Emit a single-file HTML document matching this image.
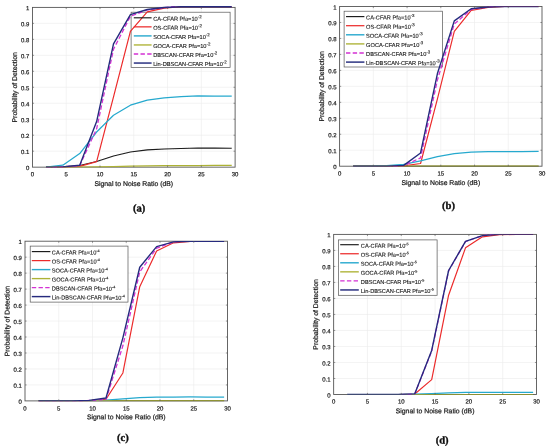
<!DOCTYPE html>
<html lang="en"><head><meta charset="utf-8"><title>CFAR detection probability</title>
<style>
html,body{margin:0;padding:0;background:#fff;}
body{width:550px;height:448px;overflow:hidden;}
svg{display:block;}
text{font-family:"Liberation Sans",Arial,Helvetica,sans-serif;fill:#1c1c1c;stroke:#1c1c1c;stroke-width:0.12px;}
.tk{font-size:6.0px;stroke-width:0.2px;}
.lb{font-size:6.85px;stroke-width:0.22px;}
.lg{font-size:5.67px;}
.cap{font-family:"Liberation Serif","Times New Roman",serif;font-weight:bold;font-size:10.6px;fill:#0a0a0a;stroke:#0a0a0a;stroke-width:0.3px;}
</style></head><body>
<svg width="550" height="448" viewBox="0 0 550 448">
<defs><filter id="soft" x="-2%" y="-2%" width="104%" height="104%"><feGaussianBlur stdDeviation="0.4"/></filter><filter id="softt" x="-2%" y="-2%" width="104%" height="104%"><feGaussianBlur stdDeviation="0.28"/></filter></defs>
<rect x="0" y="0" width="550" height="448" fill="#ffffff"/>
<g filter="url(#soft)">

<g id="plot-a">
<path d="M66.22 7.4V167.15M100 7.4V167.15M133.77 7.4V167.15M167.55 7.4V167.15M201.32 7.4V167.15M32.45 151.18H235.1M32.45 135.2H235.1M32.45 119.23H235.1M32.45 103.25H235.1M32.45 87.28H235.1M32.45 71.3H235.1M32.45 55.33H235.1M32.45 39.35H235.1M32.45 23.38H235.1" stroke="#ebebeb" stroke-width="0.6" fill="none"/>
<rect x="32.45" y="7.4" width="202.65" height="159.75" fill="none" stroke="#555555" stroke-width="0.9"/>
<rect x="131.1" y="12.2" width="99" height="55.2" fill="#ffffff" stroke="#555555" stroke-width="0.7"/>
<clipPath id="clip-a"><rect x="31.45" y="6.1" width="204.65" height="161.3"/></clipPath>
<g clip-path="url(#clip-a)">
<polyline points="45.96,167.15 62.85,166.83 79.73,165.55 96.62,161.56 113.51,155.97 130.4,151.97 147.28,149.9 164.17,148.94 181.06,148.46 197.95,147.98 214.83,148.14 231.72,148.3" fill="none" stroke="#1a1a1a" stroke-width="1.1" stroke-linejoin="round"/>
<polyline points="45.96,167.15 62.85,167.15 79.73,166.35 96.62,161.56 113.51,96.86 130.4,31.36 147.28,11.87 164.17,8.04 181.06,6.76 197.95,6.76 214.83,6.76 231.72,6.76" fill="none" stroke="#ec2c2c" stroke-width="1.2" stroke-linejoin="round"/>
<polyline points="45.96,167.15 62.85,165.23 79.73,153.57 96.62,132 113.51,115.23 130.4,105.17 147.28,100.06 164.17,97.82 181.06,96.7 197.95,95.9 214.83,96.06 231.72,96.22" fill="none" stroke="#26a9ce" stroke-width="1.25" stroke-linejoin="round"/>
<polyline points="45.96,167.15 62.85,167.15 79.73,167.15 96.62,166.99 113.51,166.67 130.4,166.19 147.28,165.87 164.17,165.71 181.06,165.55 197.95,165.55 214.83,165.39 231.72,165.39" fill="none" stroke="#adb234" stroke-width="1.25" stroke-linejoin="round"/>
<polyline points="45.96,168.27 62.85,166.83 79.73,165.55 96.62,128.81 113.51,49.25 130.4,16.35 147.28,9.96 164.17,7.72 181.06,5.64 197.95,5.64 214.83,5.64 231.72,5.64" fill="none" stroke="#d432d4" stroke-width="1.3" stroke-linejoin="round" stroke-dasharray="4.4 2.3"/>
<polyline points="45.96,167.15 62.85,166.83 79.73,165.23 96.62,121.62 113.51,43.82 130.4,14.59 147.28,9.48 164.17,7.56 181.06,6.76 197.95,6.76 214.83,6.76 231.72,6.76" fill="none" stroke="#262c7e" stroke-width="1.4" stroke-linejoin="round"/>
</g>
<path d="M66.22 167.15v-1.6M66.22 7.4v1.6M100 167.15v-1.6M100 7.4v1.6M133.77 167.15v-1.6M133.77 7.4v1.6M167.55 167.15v-1.6M167.55 7.4v1.6M201.32 167.15v-1.6M201.32 7.4v1.6M32.45 151.18h1.6M235.1 151.18h-1.6M32.45 135.2h1.6M235.1 135.2h-1.6M32.45 119.23h1.6M235.1 119.23h-1.6M32.45 103.25h1.6M235.1 103.25h-1.6M32.45 87.28h1.6M235.1 87.28h-1.6M32.45 71.3h1.6M235.1 71.3h-1.6M32.45 55.33h1.6M235.1 55.33h-1.6M32.45 39.35h1.6M235.1 39.35h-1.6M32.45 23.38h1.6M235.1 23.38h-1.6" stroke="#555555" stroke-width="0.6" fill="none"/>
<path d="M133.8 17.8H151.6" stroke="#1a1a1a" stroke-width="1.15" fill="none"/>
<path d="M133.8 26.85H151.6" stroke="#ec2c2c" stroke-width="1.25" fill="none"/>
<path d="M133.8 35.9H151.6" stroke="#26a9ce" stroke-width="1.4" fill="none"/>
<path d="M133.8 44.95H151.6" stroke="#adb234" stroke-width="1.35" fill="none"/>
<path d="M133.8 54H151.6" stroke="#d432d4" stroke-width="1.4" fill="none" stroke-dasharray="4.4 2.3"/>
<path d="M133.8 63.05H151.6" stroke="#262c7e" stroke-width="1.45" fill="none"/>
</g>
<g id="plot-b">
<path d="M373.33 6.5V166.2M407.07 6.5V166.2M440.8 6.5V166.2M474.53 6.5V166.2M508.27 6.5V166.2M339.6 150.23H542M339.6 134.26H542M339.6 118.29H542M339.6 102.32H542M339.6 86.35H542M339.6 70.38H542M339.6 54.41H542M339.6 38.44H542M339.6 22.47H542" stroke="#ebebeb" stroke-width="0.6" fill="none"/>
<rect x="339.6" y="6.5" width="202.4" height="159.7" fill="none" stroke="#555555" stroke-width="0.9"/>
<rect x="344.1" y="11.2" width="98.4" height="55.8" fill="#ffffff" stroke="#555555" stroke-width="0.7"/>
<clipPath id="clip-b"><rect x="338.6" y="6.25" width="204.4" height="160.2"/></clipPath>
<g clip-path="url(#clip-b)">
<polyline points="353.09,166.2 369.96,166.2 386.83,166.2 403.69,166.2 420.56,166.2 437.43,166.2 454.29,166.2 471.16,166.2 488.03,166.2 504.89,166.2 521.76,166.2 538.63,166.2" fill="none" stroke="#1a1a1a" stroke-width="1.1" stroke-linejoin="round"/>
<polyline points="353.09,166.2 369.96,166.2 386.83,166.2 403.69,165.88 420.56,163.49 437.43,98.81 454.29,31.41 471.16,10.49 488.03,7.3 504.89,6.5 521.76,6.5 538.63,6.5" fill="none" stroke="#ec2c2c" stroke-width="1.2" stroke-linejoin="round"/>
<polyline points="353.09,166.2 369.96,166.2 386.83,165.72 403.69,164.28 420.56,160.93 437.43,156.62 454.29,153.74 471.16,152.15 488.03,151.67 504.89,151.59 521.76,151.59 538.63,151.27" fill="none" stroke="#26a9ce" stroke-width="1.25" stroke-linejoin="round"/>
<polyline points="353.09,166.2 369.96,166.2 386.83,166.2 403.69,166.2 420.56,166.2 437.43,166.2 454.29,166.2 471.16,166.2 488.03,166.2 504.89,166.2 521.76,166.2 538.63,166.2" fill="none" stroke="#adb234" stroke-width="1.25" stroke-linejoin="round"/>
<polyline points="353.09,167.32 369.96,167.32 386.83,167.32 403.69,165.56 420.56,157.9 437.43,79.96 454.29,24.07 471.16,9.37 488.03,6.98 504.89,5.38 521.76,5.38 538.63,5.38" fill="none" stroke="#d432d4" stroke-width="1.3" stroke-linejoin="round" stroke-dasharray="4.4 2.3"/>
<polyline points="353.09,166.2 369.96,166.2 386.83,166.2 403.69,165.4 420.56,152.94 437.43,73.57 454.29,20.87 471.16,8.74 488.03,6.98 504.89,6.5 521.76,6.5 538.63,6.5" fill="none" stroke="#262c7e" stroke-width="1.4" stroke-linejoin="round"/>
</g>
<path d="M373.33 166.2v-1.6M373.33 6.5v1.6M407.07 166.2v-1.6M407.07 6.5v1.6M440.8 166.2v-1.6M440.8 6.5v1.6M474.53 166.2v-1.6M474.53 6.5v1.6M508.27 166.2v-1.6M508.27 6.5v1.6M339.6 150.23h1.6M542 150.23h-1.6M339.6 134.26h1.6M542 134.26h-1.6M339.6 118.29h1.6M542 118.29h-1.6M339.6 102.32h1.6M542 102.32h-1.6M339.6 86.35h1.6M542 86.35h-1.6M339.6 70.38h1.6M542 70.38h-1.6M339.6 54.41h1.6M542 54.41h-1.6M339.6 38.44h1.6M542 38.44h-1.6M339.6 22.47h1.6M542 22.47h-1.6" stroke="#555555" stroke-width="0.6" fill="none"/>
<path d="M346 16.6H364.4" stroke="#1a1a1a" stroke-width="1.15" fill="none"/>
<path d="M346 25.7H364.4" stroke="#ec2c2c" stroke-width="1.25" fill="none"/>
<path d="M346 34.8H364.4" stroke="#26a9ce" stroke-width="1.4" fill="none"/>
<path d="M346 43.9H364.4" stroke="#adb234" stroke-width="1.35" fill="none"/>
<path d="M346 53H364.4" stroke="#d432d4" stroke-width="1.4" fill="none" stroke-dasharray="4.4 2.3"/>
<path d="M346 62.1H364.4" stroke="#262c7e" stroke-width="1.45" fill="none"/>
</g>
<g id="plot-c">
<path d="M58.75 241.2V400.9M92.5 241.2V400.9M126.25 241.2V400.9M160 241.2V400.9M193.75 241.2V400.9M25 384.93H227.5M25 368.96H227.5M25 352.99H227.5M25 337.02H227.5M25 321.05H227.5M25 305.08H227.5M25 289.11H227.5M25 273.14H227.5M25 257.17H227.5" stroke="#ebebeb" stroke-width="0.6" fill="none"/>
<rect x="25" y="241.2" width="202.5" height="159.7" fill="none" stroke="#555555" stroke-width="0.9"/>
<rect x="30.2" y="246.1" width="97.8" height="56" fill="#ffffff" stroke="#555555" stroke-width="0.7"/>
<clipPath id="clip-c"><rect x="24" y="240.95" width="204.5" height="160.2"/></clipPath>
<g clip-path="url(#clip-c)">
<polyline points="38.5,400.9 55.38,400.9 72.25,400.9 89.12,400.9 106,400.9 122.88,400.9 139.75,400.9 156.62,400.9 173.5,400.9 190.38,400.9 207.25,400.9 224.12,400.9" fill="none" stroke="#1a1a1a" stroke-width="1.1" stroke-linejoin="round"/>
<polyline points="38.5,400.9 55.38,400.9 72.25,400.9 89.12,400.74 106,399.3 122.88,372.95 139.75,286.71 156.62,250.94 173.5,242.8 190.38,241.52 207.25,241.2 224.12,241.2" fill="none" stroke="#ec2c2c" stroke-width="1.2" stroke-linejoin="round"/>
<polyline points="38.5,400.9 55.38,400.9 72.25,400.9 89.12,400.74 106,400.1 122.88,398.82 139.75,397.71 156.62,397.23 173.5,397.07 190.38,396.99 207.25,397.07 224.12,397.07" fill="none" stroke="#26a9ce" stroke-width="1.25" stroke-linejoin="round"/>
<polyline points="38.5,400.9 55.38,400.9 72.25,400.9 89.12,400.9 106,400.9 122.88,400.9 139.75,400.9 156.62,400.9 173.5,400.9 190.38,400.9 207.25,400.9 224.12,400.9" fill="none" stroke="#adb234" stroke-width="1.25" stroke-linejoin="round"/>
<polyline points="38.5,402.02 55.38,402.02 72.25,402.02 89.12,400.42 106,399.46 122.88,345.8 139.75,271.86 156.62,248.23 173.5,242 190.38,240.08 207.25,240.08 224.12,240.08" fill="none" stroke="#d432d4" stroke-width="1.3" stroke-linejoin="round" stroke-dasharray="4.4 2.3"/>
<polyline points="38.5,400.9 55.38,400.9 72.25,400.9 89.12,400.42 106,398.03 122.88,337.82 139.75,267.23 156.62,246.63 173.5,241.84 190.38,241.2 207.25,241.2 224.12,241.2" fill="none" stroke="#262c7e" stroke-width="1.4" stroke-linejoin="round"/>
</g>
<path d="M58.75 400.9v-1.6M58.75 241.2v1.6M92.5 400.9v-1.6M92.5 241.2v1.6M126.25 400.9v-1.6M126.25 241.2v1.6M160 400.9v-1.6M160 241.2v1.6M193.75 400.9v-1.6M193.75 241.2v1.6M25 384.93h1.6M227.5 384.93h-1.6M25 368.96h1.6M227.5 368.96h-1.6M25 352.99h1.6M227.5 352.99h-1.6M25 337.02h1.6M227.5 337.02h-1.6M25 321.05h1.6M227.5 321.05h-1.6M25 305.08h1.6M227.5 305.08h-1.6M25 289.11h1.6M227.5 289.11h-1.6M25 273.14h1.6M227.5 273.14h-1.6M25 257.17h1.6M227.5 257.17h-1.6" stroke="#555555" stroke-width="0.6" fill="none"/>
<path d="M31.8 251.6H50.4" stroke="#1a1a1a" stroke-width="1.15" fill="none"/>
<path d="M31.8 260.6H50.4" stroke="#ec2c2c" stroke-width="1.25" fill="none"/>
<path d="M31.8 269.6H50.4" stroke="#26a9ce" stroke-width="1.4" fill="none"/>
<path d="M31.8 278.6H50.4" stroke="#adb234" stroke-width="1.35" fill="none"/>
<path d="M31.8 287.6H50.4" stroke="#d432d4" stroke-width="1.4" fill="none" stroke-dasharray="4.4 2.3"/>
<path d="M31.8 296.6H50.4" stroke="#262c7e" stroke-width="1.45" fill="none"/>
</g>
<g id="plot-d">
<path d="M367.46 234.4V394.5M401.27 234.4V394.5M435.07 234.4V394.5M468.88 234.4V394.5M502.69 234.4V394.5M333.65 378.49H536.5M333.65 362.48H536.5M333.65 346.47H536.5M333.65 330.46H536.5M333.65 314.45H536.5M333.65 298.44H536.5M333.65 282.43H536.5M333.65 266.42H536.5M333.65 250.41H536.5" stroke="#ebebeb" stroke-width="0.6" fill="none"/>
<rect x="333.65" y="234.4" width="202.85" height="160.1" fill="none" stroke="#555555" stroke-width="0.9"/>
<rect x="338.4" y="239.9" width="98.7" height="55.4" fill="#ffffff" stroke="#555555" stroke-width="0.7"/>
<clipPath id="clip-d"><rect x="332.65" y="234.15" width="204.85" height="160.6"/></clipPath>
<g clip-path="url(#clip-d)">
<polyline points="347.17,394.5 364.08,394.5 380.98,394.5 397.89,394.5 414.79,394.5 431.69,394.5 448.6,394.5 465.5,394.5 482.41,394.5 499.31,394.5 516.22,394.5 533.12,394.5" fill="none" stroke="#1a1a1a" stroke-width="1.1" stroke-linejoin="round"/>
<polyline points="347.17,394.5 364.08,394.5 380.98,394.5 397.89,394.5 414.79,394.02 431.69,379.61 448.6,295.24 465.5,247.85 482.41,236.8 499.31,234.72 516.22,234.4 533.12,234.4" fill="none" stroke="#ec2c2c" stroke-width="1.2" stroke-linejoin="round"/>
<polyline points="347.17,394.5 364.08,394.5 380.98,394.5 397.89,394.5 414.79,394.18 431.69,393.54 448.6,392.9 465.5,392.42 482.41,392.26 499.31,392.26 516.22,392.26 533.12,392.26" fill="none" stroke="#26a9ce" stroke-width="1.25" stroke-linejoin="round"/>
<polyline points="347.17,394.5 364.08,394.5 380.98,394.5 397.89,394.5 414.79,394.5 431.69,394.5 448.6,394.5 465.5,394.5 482.41,394.5 499.31,394.5 516.22,394.5 533.12,394.5" fill="none" stroke="#adb234" stroke-width="1.25" stroke-linejoin="round"/>
<polyline points="347.17,395.62 364.08,395.62 380.98,395.62 397.89,395.62 414.79,393.86 431.69,351.27 448.6,270.9 465.5,241.6 482.41,235.68 499.31,233.28 516.22,233.28 533.12,233.28" fill="none" stroke="#d432d4" stroke-width="1.3" stroke-linejoin="round" stroke-dasharray="4.4 2.3"/>
<polyline points="347.17,394.5 364.08,394.5 380.98,394.5 397.89,394.5 414.79,393.86 431.69,350.47 448.6,270.5 465.5,241.44 482.41,235.6 499.31,234.4 516.22,234.4 533.12,234.4" fill="none" stroke="#262c7e" stroke-width="1.4" stroke-linejoin="round"/>
</g>
<path d="M367.46 394.5v-1.6M367.46 234.4v1.6M401.27 394.5v-1.6M401.27 234.4v1.6M435.07 394.5v-1.6M435.07 234.4v1.6M468.88 394.5v-1.6M468.88 234.4v1.6M502.69 394.5v-1.6M502.69 234.4v1.6M333.65 378.49h1.6M536.5 378.49h-1.6M333.65 362.48h1.6M536.5 362.48h-1.6M333.65 346.47h1.6M536.5 346.47h-1.6M333.65 330.46h1.6M536.5 330.46h-1.6M333.65 314.45h1.6M536.5 314.45h-1.6M333.65 298.44h1.6M536.5 298.44h-1.6M333.65 282.43h1.6M536.5 282.43h-1.6M333.65 266.42h1.6M536.5 266.42h-1.6M333.65 250.41h1.6M536.5 250.41h-1.6" stroke="#555555" stroke-width="0.6" fill="none"/>
<path d="M340.2 244.7H358.8" stroke="#1a1a1a" stroke-width="1.15" fill="none"/>
<path d="M340.2 253.75H358.8" stroke="#ec2c2c" stroke-width="1.25" fill="none"/>
<path d="M340.2 262.8H358.8" stroke="#26a9ce" stroke-width="1.4" fill="none"/>
<path d="M340.2 271.85H358.8" stroke="#adb234" stroke-width="1.35" fill="none"/>
<path d="M340.2 280.9H358.8" stroke="#d432d4" stroke-width="1.4" fill="none" stroke-dasharray="4.4 2.3"/>
<path d="M340.2 289.95H358.8" stroke="#262c7e" stroke-width="1.45" fill="none"/>
</g>
</g>
<g filter="url(#softt)">
<text class="tk" transform="translate(32.45 176.3) matrix(1 0.0005 0 1 0 0)" text-anchor="middle">0</text>
<text class="tk" transform="translate(66.22 176.3) matrix(1 0.0005 0 1 0 0)" text-anchor="middle">5</text>
<text class="tk" transform="translate(100 176.3) matrix(1 0.0005 0 1 0 0)" text-anchor="middle">10</text>
<text class="tk" transform="translate(133.77 176.3) matrix(1 0.0005 0 1 0 0)" text-anchor="middle">15</text>
<text class="tk" transform="translate(167.55 176.3) matrix(1 0.0005 0 1 0 0)" text-anchor="middle">20</text>
<text class="tk" transform="translate(201.32 176.3) matrix(1 0.0005 0 1 0 0)" text-anchor="middle">25</text>
<text class="tk" transform="translate(235.1 176.3) matrix(1 0.0005 0 1 0 0)" text-anchor="middle">30</text>
<text class="tk" transform="translate(29.35 170.05) matrix(1 0.0005 0 1 0 0)" text-anchor="end">0</text>
<text class="tk" transform="translate(29.35 154.08) matrix(1 0.0005 0 1 0 0)" text-anchor="end">0.1</text>
<text class="tk" transform="translate(29.35 138.1) matrix(1 0.0005 0 1 0 0)" text-anchor="end">0.2</text>
<text class="tk" transform="translate(29.35 122.13) matrix(1 0.0005 0 1 0 0)" text-anchor="end">0.3</text>
<text class="tk" transform="translate(29.35 106.15) matrix(1 0.0005 0 1 0 0)" text-anchor="end">0.4</text>
<text class="tk" transform="translate(29.35 90.18) matrix(1 0.0005 0 1 0 0)" text-anchor="end">0.5</text>
<text class="tk" transform="translate(29.35 74.2) matrix(1 0.0005 0 1 0 0)" text-anchor="end">0.6</text>
<text class="tk" transform="translate(29.35 58.23) matrix(1 0.0005 0 1 0 0)" text-anchor="end">0.7</text>
<text class="tk" transform="translate(29.35 42.25) matrix(1 0.0005 0 1 0 0)" text-anchor="end">0.8</text>
<text class="tk" transform="translate(29.35 26.27) matrix(1 0.0005 0 1 0 0)" text-anchor="end">0.9</text>
<text class="tk" transform="translate(29.35 10.3) matrix(1 0.0005 0 1 0 0)" text-anchor="end">1</text>
<text class="lb" transform="translate(133.78 186) matrix(1 0.0005 0 1 0 0)" text-anchor="middle">Signal to Noise Ratio (dB)</text>
<text class="lb" transform="translate(17 87.28) rotate(-90) matrix(1 0.0005 0 1 0 0)" text-anchor="middle">Probability of Detection</text>
<text class="lg" transform="translate(153.2 20.8) matrix(1 0.0005 0 1 0 0)">CA-CFAR Pfa=10<tspan dy="-2.6" font-size="4.4">-2</tspan></text>
<text class="lg" transform="translate(153.2 29.85) matrix(1 0.0005 0 1 0 0)">OS-CFAR Pfa=10<tspan dy="-2.6" font-size="4.4">-2</tspan></text>
<text class="lg" transform="translate(153.2 38.9) matrix(1 0.0005 0 1 0 0)">SOCA-CFAR Pfa=10<tspan dy="-2.6" font-size="4.4">-2</tspan></text>
<text class="lg" transform="translate(153.2 47.95) matrix(1 0.0005 0 1 0 0)">GOCA-CFAR Pfa=10<tspan dy="-2.6" font-size="4.4">-2</tspan></text>
<text class="lg" transform="translate(153.2 57) matrix(1 0.0005 0 1 0 0)">DBSCAN-CFAR Pfa=10<tspan dy="-2.6" font-size="4.4">-2</tspan></text>
<text class="lg" transform="translate(153.2 66.05) matrix(1 0.0005 0 1 0 0)">Lin-DBSCAN-CFAR Pfa=10<tspan dy="-2.6" font-size="4.4">-2</tspan></text>
<text class="cap" transform="translate(139.1 211.6) matrix(1 0.0005 0 1 0 0)" text-anchor="middle">(a)</text>
<text class="tk" transform="translate(339.6 175.4) matrix(1 0.0005 0 1 0 0)" text-anchor="middle">0</text>
<text class="tk" transform="translate(373.33 175.4) matrix(1 0.0005 0 1 0 0)" text-anchor="middle">5</text>
<text class="tk" transform="translate(407.07 175.4) matrix(1 0.0005 0 1 0 0)" text-anchor="middle">10</text>
<text class="tk" transform="translate(440.8 175.4) matrix(1 0.0005 0 1 0 0)" text-anchor="middle">15</text>
<text class="tk" transform="translate(474.53 175.4) matrix(1 0.0005 0 1 0 0)" text-anchor="middle">20</text>
<text class="tk" transform="translate(508.27 175.4) matrix(1 0.0005 0 1 0 0)" text-anchor="middle">25</text>
<text class="tk" transform="translate(542 175.4) matrix(1 0.0005 0 1 0 0)" text-anchor="middle">30</text>
<text class="tk" transform="translate(336.5 169.1) matrix(1 0.0005 0 1 0 0)" text-anchor="end">0</text>
<text class="tk" transform="translate(336.5 153.13) matrix(1 0.0005 0 1 0 0)" text-anchor="end">0.1</text>
<text class="tk" transform="translate(336.5 137.16) matrix(1 0.0005 0 1 0 0)" text-anchor="end">0.2</text>
<text class="tk" transform="translate(336.5 121.19) matrix(1 0.0005 0 1 0 0)" text-anchor="end">0.3</text>
<text class="tk" transform="translate(336.5 105.22) matrix(1 0.0005 0 1 0 0)" text-anchor="end">0.4</text>
<text class="tk" transform="translate(336.5 89.25) matrix(1 0.0005 0 1 0 0)" text-anchor="end">0.5</text>
<text class="tk" transform="translate(336.5 73.28) matrix(1 0.0005 0 1 0 0)" text-anchor="end">0.6</text>
<text class="tk" transform="translate(336.5 57.31) matrix(1 0.0005 0 1 0 0)" text-anchor="end">0.7</text>
<text class="tk" transform="translate(336.5 41.34) matrix(1 0.0005 0 1 0 0)" text-anchor="end">0.8</text>
<text class="tk" transform="translate(336.5 25.37) matrix(1 0.0005 0 1 0 0)" text-anchor="end">0.9</text>
<text class="tk" transform="translate(336.5 9.4) matrix(1 0.0005 0 1 0 0)" text-anchor="end">1</text>
<text class="lb" transform="translate(440.8 185) matrix(1 0.0005 0 1 0 0)" text-anchor="middle">Signal to Noise Ratio (dB)</text>
<text class="lb" transform="translate(324 86.35) rotate(-90) matrix(1 0.0005 0 1 0 0)" text-anchor="middle">Probability of Detection</text>
<text class="lg" transform="translate(366.1 19.6) matrix(1 0.0005 0 1 0 0)">CA-CFAR Pfa=10<tspan dy="-2.6" font-size="4.4">-3</tspan></text>
<text class="lg" transform="translate(366.1 28.7) matrix(1 0.0005 0 1 0 0)">OS-CFAR Pfa=10<tspan dy="-2.6" font-size="4.4">-3</tspan></text>
<text class="lg" transform="translate(366.1 37.8) matrix(1 0.0005 0 1 0 0)">SOCA-CFAR Pfa=10<tspan dy="-2.6" font-size="4.4">-3</tspan></text>
<text class="lg" transform="translate(366.1 46.9) matrix(1 0.0005 0 1 0 0)">GOCA-CFAR Pfa=10<tspan dy="-2.6" font-size="4.4">-3</tspan></text>
<text class="lg" transform="translate(366.1 56) matrix(1 0.0005 0 1 0 0)">DBSCAN-CFAR Pfa=10<tspan dy="-2.6" font-size="4.4">-3</tspan></text>
<text class="lg" transform="translate(366.1 65.1) matrix(1 0.0005 0 1 0 0)">Lin-DBSCAN-CFAR Pfa=10<tspan dy="-2.6" font-size="4.4">-3</tspan></text>
<text class="cap" transform="translate(448.5 209) matrix(1 0.0005 0 1 0 0)" text-anchor="middle">(b)</text>
<text class="tk" transform="translate(25 410.4) matrix(1 0.0005 0 1 0 0)" text-anchor="middle">0</text>
<text class="tk" transform="translate(58.75 410.4) matrix(1 0.0005 0 1 0 0)" text-anchor="middle">5</text>
<text class="tk" transform="translate(92.5 410.4) matrix(1 0.0005 0 1 0 0)" text-anchor="middle">10</text>
<text class="tk" transform="translate(126.25 410.4) matrix(1 0.0005 0 1 0 0)" text-anchor="middle">15</text>
<text class="tk" transform="translate(160 410.4) matrix(1 0.0005 0 1 0 0)" text-anchor="middle">20</text>
<text class="tk" transform="translate(193.75 410.4) matrix(1 0.0005 0 1 0 0)" text-anchor="middle">25</text>
<text class="tk" transform="translate(227.5 410.4) matrix(1 0.0005 0 1 0 0)" text-anchor="middle">30</text>
<text class="tk" transform="translate(21.9 403.8) matrix(1 0.0005 0 1 0 0)" text-anchor="end">0</text>
<text class="tk" transform="translate(21.9 387.83) matrix(1 0.0005 0 1 0 0)" text-anchor="end">0.1</text>
<text class="tk" transform="translate(21.9 371.86) matrix(1 0.0005 0 1 0 0)" text-anchor="end">0.2</text>
<text class="tk" transform="translate(21.9 355.89) matrix(1 0.0005 0 1 0 0)" text-anchor="end">0.3</text>
<text class="tk" transform="translate(21.9 339.92) matrix(1 0.0005 0 1 0 0)" text-anchor="end">0.4</text>
<text class="tk" transform="translate(21.9 323.95) matrix(1 0.0005 0 1 0 0)" text-anchor="end">0.5</text>
<text class="tk" transform="translate(21.9 307.98) matrix(1 0.0005 0 1 0 0)" text-anchor="end">0.6</text>
<text class="tk" transform="translate(21.9 292.01) matrix(1 0.0005 0 1 0 0)" text-anchor="end">0.7</text>
<text class="tk" transform="translate(21.9 276.04) matrix(1 0.0005 0 1 0 0)" text-anchor="end">0.8</text>
<text class="tk" transform="translate(21.9 260.07) matrix(1 0.0005 0 1 0 0)" text-anchor="end">0.9</text>
<text class="tk" transform="translate(21.9 244.1) matrix(1 0.0005 0 1 0 0)" text-anchor="end">1</text>
<text class="lb" transform="translate(126.25 419.2) matrix(1 0.0005 0 1 0 0)" text-anchor="middle">Signal to Noise Ratio (dB)</text>
<text class="lb" transform="translate(9.6 321.05) rotate(-90) matrix(1 0.0005 0 1 0 0)" text-anchor="middle">Probability of Detection</text>
<text class="lg" transform="translate(51.8 254.6) matrix(1 0.0005 0 1 0 0)">CA-CFAR Pfa=10<tspan dy="-2.5" font-size="3.7">-4</tspan></text>
<text class="lg" transform="translate(51.8 263.6) matrix(1 0.0005 0 1 0 0)">OS-CFAR Pfa=10<tspan dy="-2.5" font-size="3.7">-4</tspan></text>
<text class="lg" transform="translate(51.8 272.6) matrix(1 0.0005 0 1 0 0)">SOCA-CFAR Pfa=10<tspan dy="-2.5" font-size="3.7">-4</tspan></text>
<text class="lg" transform="translate(51.8 281.6) matrix(1 0.0005 0 1 0 0)">GOCA-CFAR Pfa=10<tspan dy="-2.5" font-size="3.7">-4</tspan></text>
<text class="lg" transform="translate(51.8 290.6) matrix(1 0.0005 0 1 0 0)">DBSCAN-CFAR Pfa=10<tspan dy="-2.5" font-size="3.7">-4</tspan></text>
<text class="lg" transform="translate(51.8 299.6) matrix(1 0.0005 0 1 0 0)">Lin-DBSCAN-CFAR Pfa=10<tspan dy="-2.5" font-size="3.7">-4</tspan></text>
<text class="cap" transform="translate(122.8 441) matrix(1 0.0005 0 1 0 0)" text-anchor="middle">(c)</text>
<text class="tk" transform="translate(333.65 403.5) matrix(1 0.0005 0 1 0 0)" text-anchor="middle">0</text>
<text class="tk" transform="translate(367.46 403.5) matrix(1 0.0005 0 1 0 0)" text-anchor="middle">5</text>
<text class="tk" transform="translate(401.27 403.5) matrix(1 0.0005 0 1 0 0)" text-anchor="middle">10</text>
<text class="tk" transform="translate(435.07 403.5) matrix(1 0.0005 0 1 0 0)" text-anchor="middle">15</text>
<text class="tk" transform="translate(468.88 403.5) matrix(1 0.0005 0 1 0 0)" text-anchor="middle">20</text>
<text class="tk" transform="translate(502.69 403.5) matrix(1 0.0005 0 1 0 0)" text-anchor="middle">25</text>
<text class="tk" transform="translate(536.5 403.5) matrix(1 0.0005 0 1 0 0)" text-anchor="middle">30</text>
<text class="tk" transform="translate(330.55 397.4) matrix(1 0.0005 0 1 0 0)" text-anchor="end">0</text>
<text class="tk" transform="translate(330.55 381.39) matrix(1 0.0005 0 1 0 0)" text-anchor="end">0.1</text>
<text class="tk" transform="translate(330.55 365.38) matrix(1 0.0005 0 1 0 0)" text-anchor="end">0.2</text>
<text class="tk" transform="translate(330.55 349.37) matrix(1 0.0005 0 1 0 0)" text-anchor="end">0.3</text>
<text class="tk" transform="translate(330.55 333.36) matrix(1 0.0005 0 1 0 0)" text-anchor="end">0.4</text>
<text class="tk" transform="translate(330.55 317.35) matrix(1 0.0005 0 1 0 0)" text-anchor="end">0.5</text>
<text class="tk" transform="translate(330.55 301.34) matrix(1 0.0005 0 1 0 0)" text-anchor="end">0.6</text>
<text class="tk" transform="translate(330.55 285.33) matrix(1 0.0005 0 1 0 0)" text-anchor="end">0.7</text>
<text class="tk" transform="translate(330.55 269.32) matrix(1 0.0005 0 1 0 0)" text-anchor="end">0.8</text>
<text class="tk" transform="translate(330.55 253.31) matrix(1 0.0005 0 1 0 0)" text-anchor="end">0.9</text>
<text class="tk" transform="translate(330.55 237.3) matrix(1 0.0005 0 1 0 0)" text-anchor="end">1</text>
<text class="lb" transform="translate(435.07 413.2) matrix(1 0.0005 0 1 0 0)" text-anchor="middle">Signal to Noise Ratio (dB)</text>
<text class="lb" transform="translate(318 314.45) rotate(-90) matrix(1 0.0005 0 1 0 0)" text-anchor="middle">Probability of Detection</text>
<text class="lg" transform="translate(360.8 247.7) matrix(1 0.0005 0 1 0 0)">CA-CFAR Pfa=10<tspan dy="-2.5" font-size="3.7">-5</tspan></text>
<text class="lg" transform="translate(360.8 256.75) matrix(1 0.0005 0 1 0 0)">OS-CFAR Pfa=10<tspan dy="-2.5" font-size="3.7">-5</tspan></text>
<text class="lg" transform="translate(360.8 265.8) matrix(1 0.0005 0 1 0 0)">SOCA-CFAR Pfa=10<tspan dy="-2.5" font-size="3.7">-5</tspan></text>
<text class="lg" transform="translate(360.8 274.85) matrix(1 0.0005 0 1 0 0)">GOCA-CFAR Pfa=10<tspan dy="-2.5" font-size="3.7">-5</tspan></text>
<text class="lg" transform="translate(360.8 283.9) matrix(1 0.0005 0 1 0 0)">DBSCAN-CFAR Pfa=10<tspan dy="-2.5" font-size="3.7">-5</tspan></text>
<text class="lg" transform="translate(360.8 292.95) matrix(1 0.0005 0 1 0 0)">Lin-DBSCAN-CFAR Pfa=10<tspan dy="-2.5" font-size="3.7">-5</tspan></text>
<text class="cap" transform="translate(442.1 443.4) matrix(1 0.0005 0 1 0 0)" text-anchor="middle">(d)</text>
</g></svg></body></html>
